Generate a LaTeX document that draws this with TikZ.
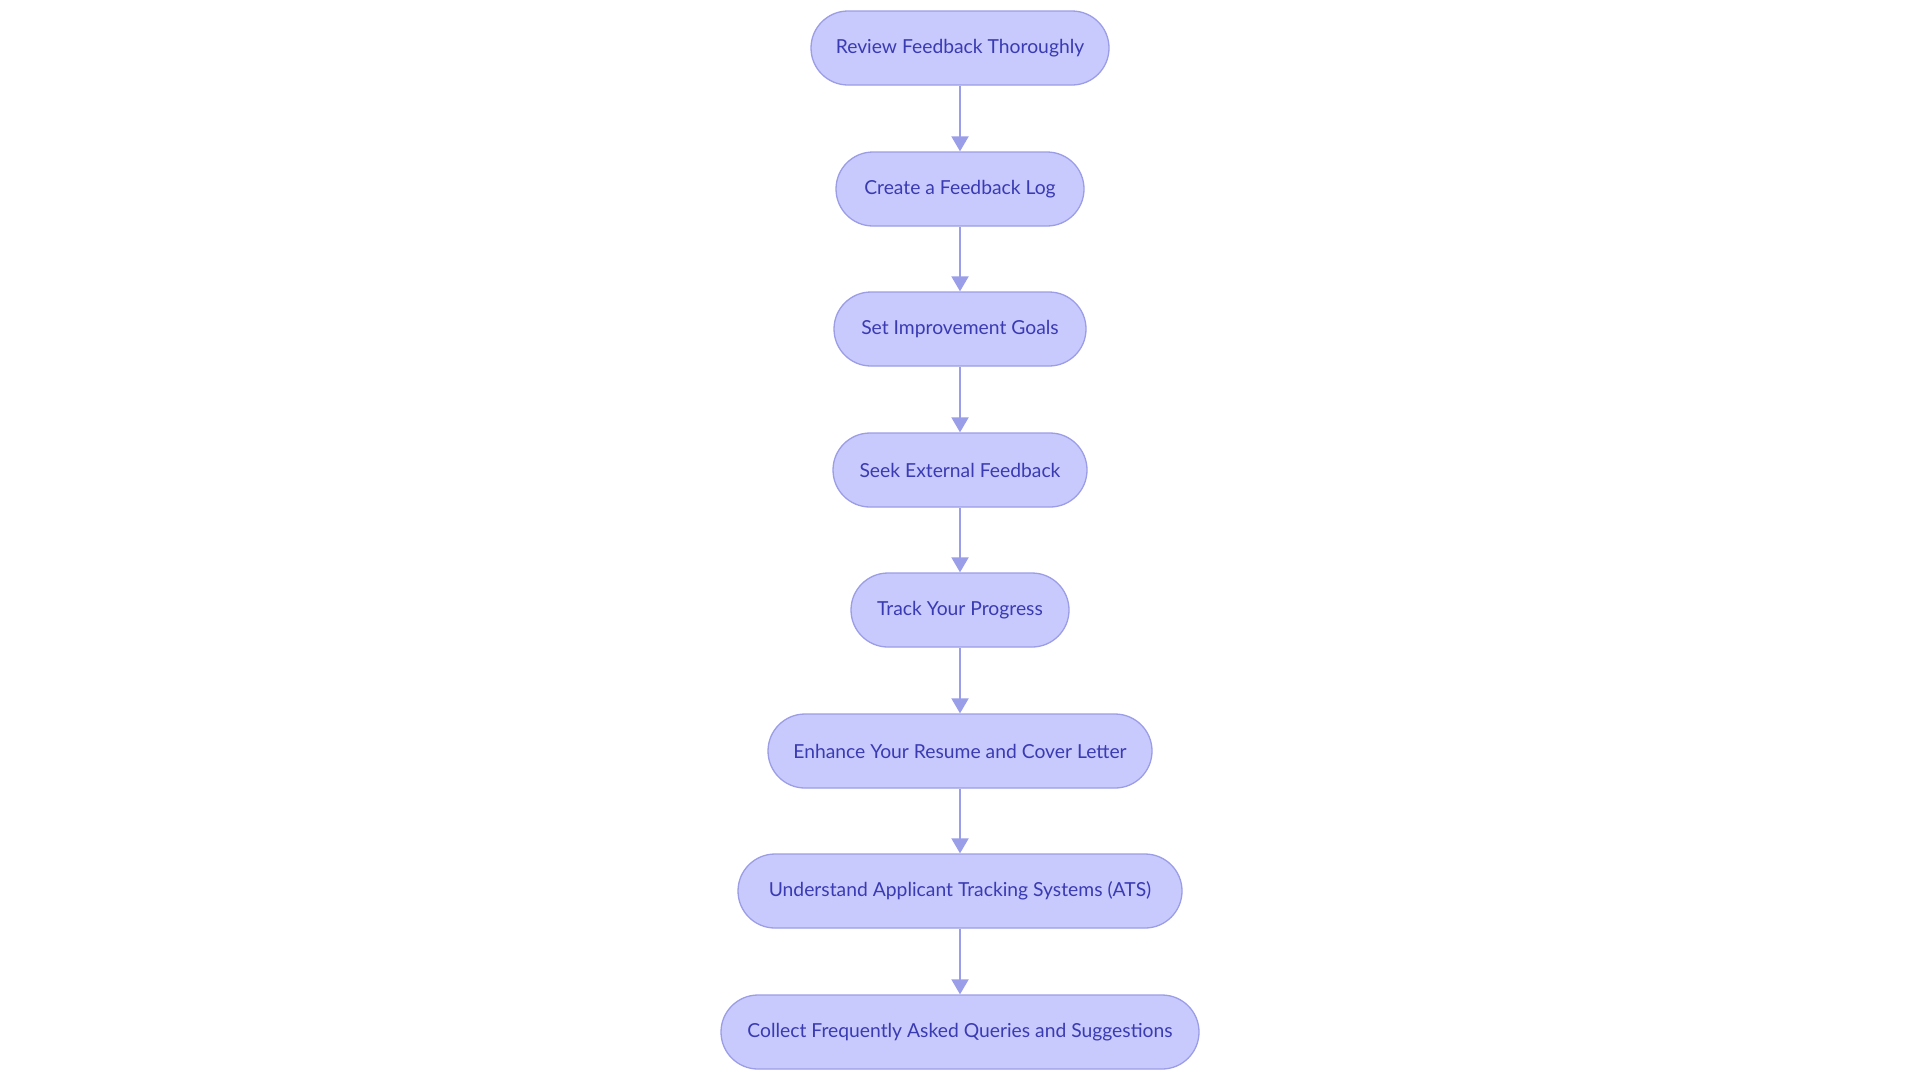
\documentclass[tikz,border=0pt]{standalone}
\usepackage{fontspec}
\setmainfont{Lato}
\usetikzlibrary{arrows.meta}
\definecolor{nodefill}{HTML}{C8CAFE}
\definecolor{nodeborder}{HTML}{9B9DE6}
\definecolor{nodetext}{HTML}{3A3AB2}
\definecolor{edgecol}{HTML}{9A9DE8}
\begin{document}
\begin{tikzpicture}[x=0.5pt,y=-0.5pt,
 stepbox/.style={draw=nodeborder, fill=nodefill, line width=0.65pt, rounded corners=18.5pt, minimum height=37pt, inner sep=0pt, text=nodetext, font=\fontsize{9.65pt}{11.5pt}\selectfont},
 flow/.style={draw=edgecol, line width=1pt, -{Triangle[length=7.5pt,width=8.5pt]}}]
\useasboundingbox (0,0) rectangle (1920,1083);
\node[stepbox, minimum width=149pt] (n1) at (960,48) {Review Feedback Thoroughly};
\node[stepbox, minimum width=124pt] (n2) at (960,189) {Create a Feedback Log};
\node[stepbox, minimum width=126pt] (n3) at (960,329) {Set Improvement Goals};
\node[stepbox, minimum width=127pt] (n4) at (960,470) {Seek External Feedback};
\node[stepbox, minimum width=109pt] (n5) at (960,610) {Track Your Progress};
\node[stepbox, minimum width=192pt] (n6) at (960,751) {Enhance Your Resume and Cover Letter};
\node[stepbox, minimum width=222pt] (n7) at (960,891) {Understand Applicant Tracking Systems (ATS)};
\node[stepbox, minimum width=239pt] (n8) at (960,1032) {Collect Frequently Asked Queries and Suggestions};
\draw[flow] (n1) -- (n2);
\draw[flow] (n2) -- (n3);
\draw[flow] (n3) -- (n4);
\draw[flow] (n4) -- (n5);
\draw[flow] (n5) -- (n6);
\draw[flow] (n6) -- (n7);
\draw[flow] (n7) -- (n8);
\end{tikzpicture}
\end{document}
